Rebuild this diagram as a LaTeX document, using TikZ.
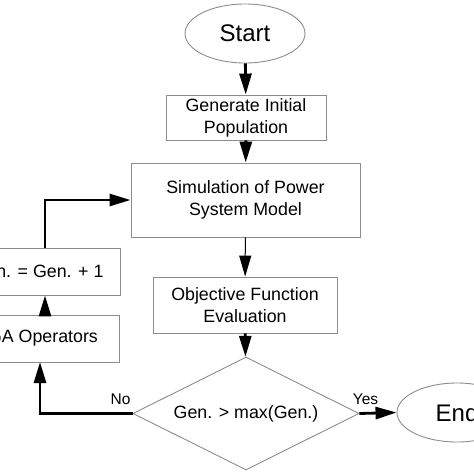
\documentclass[tikz,border=0pt]{standalone}
\usepackage{fontspec}
\setmainfont{Liberation Sans}
\usetikzlibrary{shapes.geometric,arrows.meta}
\begin{document}
\begin{tikzpicture}[x=1pt,y=-1pt,
  box/.style={draw=black!45,line width=0.9pt,rectangle,inner sep=0pt,align=center,
    font=\fontsize{17.8}{22}\selectfont},
  oval/.style={draw=black!45,line width=0.9pt,ellipse,inner sep=0pt,minimum width=120pt,minimum height=59pt,
    font=\fontsize{24}{28}\selectfont},
  dec/.style={draw=black!45,line width=0.9pt,diamond,aspect=2,inner sep=0pt,minimum width=226pt,minimum height=113pt,
    font=\fontsize{17.8}{22}\selectfont},
  flow/.style={line width=2.8pt,-{Triangle[length=21pt,width=12pt]}},
  thinflow/.style={line width=1pt,-{Triangle[length=21pt,width=12pt]}},
  lbl/.style={font=\fontsize{15.5}{18}\selectfont,inner sep=0pt,anchor=base}
]
\useasboundingbox (0,0) rectangle (474,474);
\clip (0,0) rectangle (474,474);
\fill[white] (0,0) rectangle (474,474);
\node[oval] (start) at (245,33.5) {Start};
\node[box,minimum width=160pt,minimum height=45pt] (init) at (246,117.5) {Generate Initial\\Population};
\node[box,minimum width=229pt,minimum height=74pt] (sim) at (245.5,200) {Simulation of Power\\System Model};
\node[box,minimum width=184pt,minimum height=56pt] (obj) at (245,305) {Objective Function\\Evaluation};
\node[dec] (dia) at (246,413.5) {Gen. > max(Gen.)};
\node[oval] (end) at (457,412.5) {End};
\node[box,minimum width=164pt,minimum height=47pt] (gen) at (38,271.5) {Gen. = Gen. + 1};
\node[box,minimum width=152pt,minimum height=47pt] (ga) at (43,338.5) {GA Operators};
\coordinate (gaIn) at (40,362);
\draw[flow] (start) -- (init);
\draw[flow] (init) -- (sim);
\draw[thinflow] (sim) -- (obj);
\draw[flow] (obj) -- (dia);
\draw[flow] (dia.east) -- (end.west);
\draw[flow] (dia.west) -| (gaIn);
\draw[flow] ([xshift=2pt]ga.north) -- ([xshift=7pt]gen.south);
\draw[flow] ([xshift=7pt]gen.north) |- (sim.west);
\node[lbl] (no) at (120.5,404) {No};
\node[lbl] (yes) at (365.5,404) {Yes};
\end{tikzpicture}
\end{document}
